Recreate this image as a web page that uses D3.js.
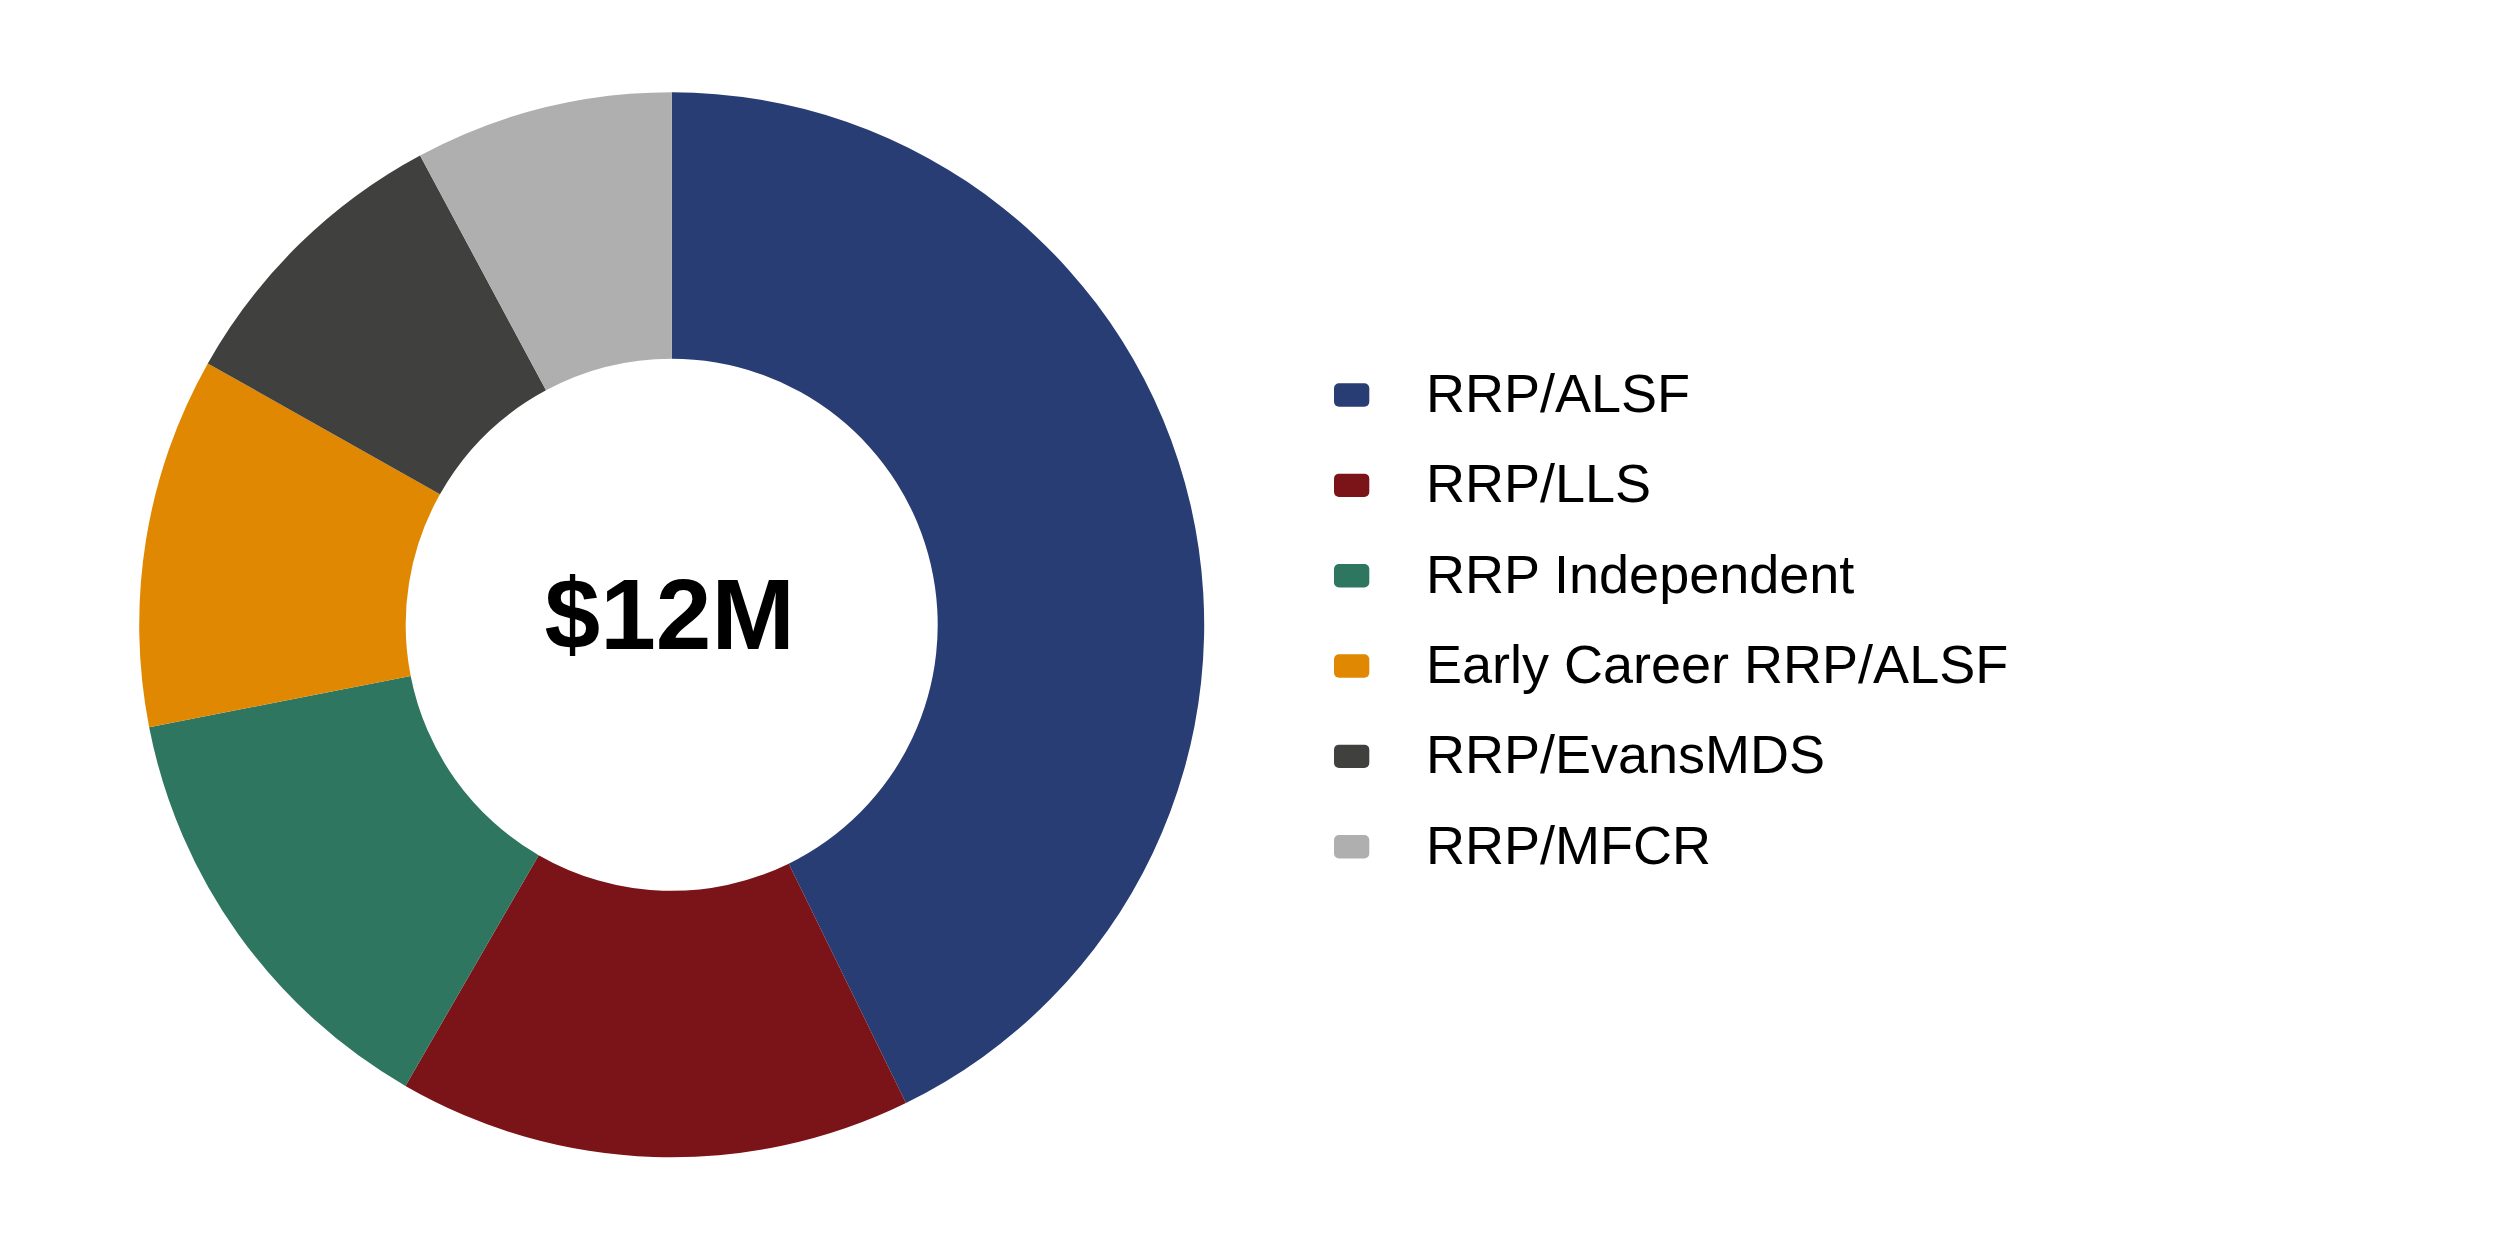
<!DOCTYPE html>
<html>
<head>
<meta charset="utf-8">
<script src="https://cdn.jsdelivr.net/npm/d3@7"></script>
<style>
  html, body { margin: 0; padding: 0; background: #ffffff; }
  svg { display: block; }
</style>
</head>
<body>
<svg id="chart" width="2500" height="1250"></svg>
<script>
// Data (values in $M)
const categories = ["RRP/ALSF", "RRP/LLS", "RRP Independent", "Early Career RRP/ALSF", "RRP/EvansMDS", "RRP/MFCR"];
const values = [5.13, 1.87, 1.63, 1.35, 1.08, 0.94];
const colors = ["#283d74", "#7b1418", "#2e7660", "#e08802", "#40403e", "#afafaf"];
const centerLabel = "$12M";

const svg = d3.select("#chart");
const cx = 671.7, cy = 624.8;
const outerR = 532.5, innerR = 266;

const color = d3.scaleOrdinal().domain(categories).range(colors);

const pie = d3.pie().sort(null).value(d => d.value).startAngle(0).endAngle(2 * Math.PI);
const arc = d3.arc().innerRadius(innerR).outerRadius(outerR);

const data = categories.map((c, i) => ({ name: c, value: values[i] }));

const g = svg.append("g").attr("transform", `translate(${cx},${cy})`);
g.selectAll("path")
  .data(pie(data))
  .join("path")
  .attr("d", arc)
  .attr("fill", d => color(d.data.name));

g.append("text")
  .attr("x", -2)
  .attr("y", 24.5)
  .attr("text-anchor", "middle")
  .attr("font-family", "'Liberation Sans', Arial, Helvetica, sans-serif")
  .attr("font-weight", "bold")
  .attr("font-size", 100)
  .attr("fill", "#000")
  .text(centerLabel);

// Legend
const legendY = d3.scalePoint().domain(categories).range([395, 846.7]);
const legend = svg.append("g");
const items = legend.selectAll("g")
  .data(categories)
  .join("g")
  .attr("transform", d => `translate(0,${legendY(d)})`);

items.append("rect")
  .attr("x", 1334)
  .attr("y", -11.7)
  .attr("width", 35.3)
  .attr("height", 23.4)
  .attr("rx", 5)
  .attr("ry", 5)
  .attr("fill", d => color(d));

items.append("text")
  .attr("x", 1426)
  .attr("y", 17)
  .attr("font-family", "'Liberation Sans', Arial, Helvetica, sans-serif")
  .attr("font-size", 54)
  .attr("fill", "#000")
  .text(d => d);
</script>
</body>
</html>
